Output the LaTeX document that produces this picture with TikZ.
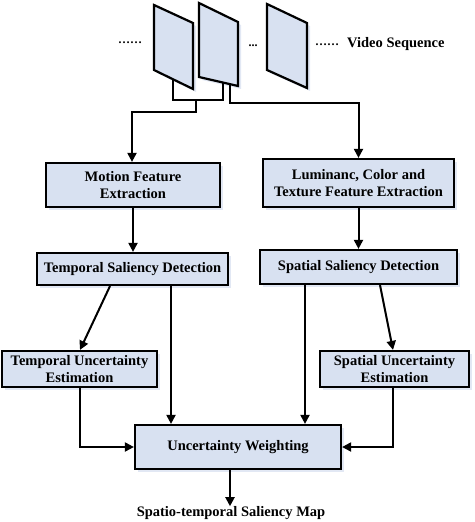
\documentclass[tikz,border=0pt]{standalone}
\usepackage{fontspec}
\setmainfont{Liberation Serif}
\usetikzlibrary{arrows.meta,shadows}
\definecolor{boxfill}{HTML}{D8E1F1}
\definecolor{shadowc}{HTML}{E2E8F4}
\tikzset{
  blk/.style={draw=black, line width=2.2pt, fill=boxfill, align=center,
    font=\bfseries\fontsize{14.5}{17}\selectfont, inner sep=0pt,
    drop shadow={shadow xshift=3pt, shadow yshift=-3pt, fill=shadowc, opacity=1, draw=none}},
  conn/.style={line width=2pt, -{Triangle[length=9pt,width=9pt]}},
  plain/.style={line width=2pt},
  frm/.style={draw=black, line width=2.2pt, fill=boxfill},
  frmsh/.style={fill=shadowc, draw=none},
  lbl/.style={font=\bfseries\fontsize{14.5}{17}\selectfont, inner sep=0pt},
  dots/.style={font=\bfseries\fontsize{12}{14}\selectfont, inner sep=0pt}
}
\begin{document}
\begin{tikzpicture}[x=1pt,y=-1pt]
\useasboundingbox (0,0) rectangle (474,522);
% frames
\fill[frmsh] (157,8) -- (196,26) -- (196,92) -- (157,73) -- cycle;
\draw[frm] (154,5) -- (193,23) -- (193,89) -- (154,70) -- cycle;
\fill[frmsh] (202,6) -- (241,25) -- (241,89) -- (202,80) -- cycle;
\draw[frm] (199,3) -- (238,22) -- (238,86) -- (199,77) -- cycle;
\fill[frmsh] (270,7) -- (310,26) -- (310,91) -- (270,73) -- cycle;
\draw[frm] (267,4) -- (307,23) -- (307,88) -- (267,70) -- cycle;
\node[dots] (d1) at (130,43) {……};
\node[dots] (d2) at (253,46) {...};
\node[dots] (d3) at (327,45) {……};
\node[lbl, anchor=west] (vs) at (347,44) {Video Sequence};
\coordinate (f1b) at (173,79);
\coordinate (f2b) at (223,82);
\coordinate (f2c) at (230,84);
\coordinate (j1) at (196,100);
% boxes
\node[blk, minimum width=174pt, minimum height=44pt] (mfe) at (133,185) {Motion Feature\\Extraction};
\node[blk, minimum width=191pt, minimum height=48pt] (lum) at (358.5,183) {Luminanc, Color and\\Texture Feature Extraction};
\node[blk, minimum width=191pt, minimum height=32pt] (tsd) at (132.5,269) {Temporal Saliency Detection};
\node[blk, minimum width=197pt, minimum height=34pt] (ssd) at (358.5,267) {Spatial Saliency Detection};
\node[blk, minimum width=155pt, minimum height=36pt] (tue) at (79.5,369) {Temporal Uncertainty\\Estimation};
\node[blk, minimum width=149pt, minimum height=36pt] (sue) at (394.5,369) {Spatial Uncertainty\\Estimation};
\node[blk, minimum width=206pt, minimum height=44pt] (uw) at (238,447) {Uncertainty Weighting};
\node[lbl] (map) at (231,513) {Spatio-temporal Saliency Map};
% connectors from frames
\draw[plain] (f1b) |- (f2b |- j1) -- (f2b);
\draw[conn] (j1) -- (196,112) -| (mfe.north -| 132,0);
\draw[conn] (f2c) -- (230,103) -| (lum.north);
% between boxes
\draw[conn] (mfe.south) -- (mfe.south |- tsd.north);
\draw[conn] (lum.south) -- (lum.south |- ssd.north);
\draw[conn] (tsd.south -| 110,0) -- (tue.north -| 80,0);
\draw[conn] (ssd.south -| 380,0) -- (sue.north -| 393,0);
\draw[conn] (tsd.south -| 171,0) -- (uw.north -| 171,0);
\draw[conn] (ssd.south -| 305,0) -- (uw.north -| 305,0);
\draw[conn] (tue.south) |- (uw.west);
\draw[conn] (sue.south -| 393,0) |- (uw.east);
\draw[conn] (uw.south -| 230,0) -- (map.north -| 230,0);
\end{tikzpicture}
\end{document}
